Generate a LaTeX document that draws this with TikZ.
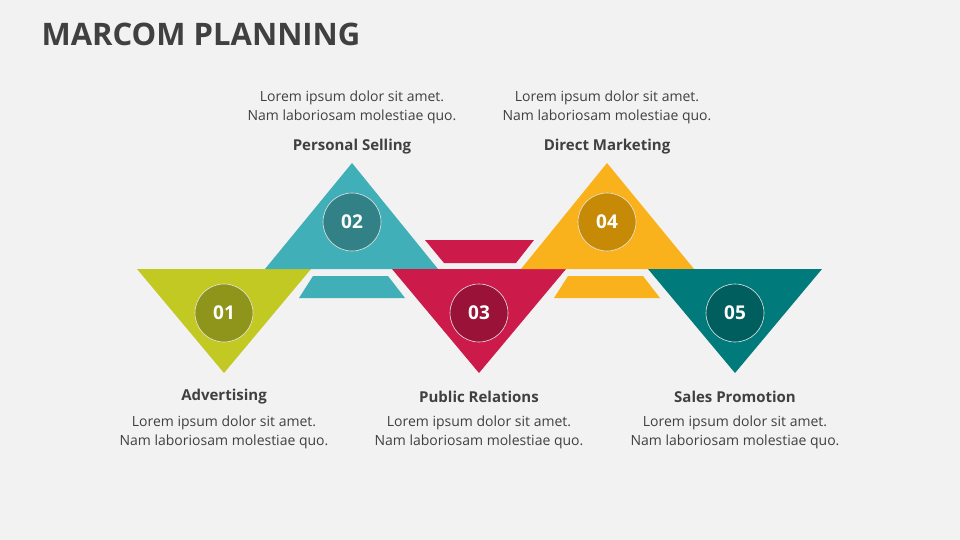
\documentclass[tikz,border=0pt]{standalone}
\usepackage{fontspec}
\setmainfont{Open Sans}
\definecolor{bg}{HTML}{F2F2F2}
\definecolor{cA}{HTML}{C3C923}\definecolor{dA}{HTML}{8F951A}
\definecolor{cB}{HTML}{41AFB8}\definecolor{dB}{HTML}{318187}
\definecolor{cC}{HTML}{CC1A4A}\definecolor{dC}{HTML}{9A1238}
\definecolor{cD}{HTML}{F9B21B}\definecolor{dD}{HTML}{C78A06}
\definecolor{cE}{HTML}{007A7A}\definecolor{dE}{HTML}{005E5E}
\definecolor{txt}{HTML}{404040}
\begin{document}
\begin{tikzpicture}[x=1pt,y=-1pt,
  num/.style={circle,minimum size=58pt,draw=white!80!gray,line width=0.6pt,text=white,font=\bfseries\fontsize{19}{19}\selectfont},
  head/.style={text=txt,font=\bfseries\fontsize{15}{18}\selectfont},
  body/.style={text=txt,align=center,font=\fontsize{14}{19}\selectfont}]
\fill[bg] (0,0) rectangle (960,540);
\useasboundingbox (0,0) rectangle (960,540);
\node[anchor=west,text=txt,font=\bfseries\fontsize{31}{31}\selectfont] (title) at (38,34) {MARCOM PLANNING};
% triangles
\fill[cA] (137,269) -- (311,269) -- (224,373) -- cycle;
\fill[cB] (265,269) -- (438,269) -- (352,163) -- cycle;
\fill[cC] (392,269) -- (566,269) -- (479,373) -- cycle;
\fill[cD] (521,269) -- (694,269) -- (607,163) -- cycle;
\fill[cE] (648,269) -- (822,269) -- (735,373) -- cycle;
% trapezoids
\fill[cB] (313,276) -- (388,276) -- (405,298) -- (299,298) -- cycle;
\fill[cC] (425,240) -- (534,240) -- (516,263) -- (444,263) -- cycle;
\fill[cD] (568,276) -- (643,276) -- (660,298) -- (554,298) -- cycle;
% circles
\node[num,fill=dA] (n1) at (224,313) {01};
\node[num,fill=dB] (n2) at (352,222) {02};
\node[num,fill=dC] (n3) at (479,313) {03};
\node[num,fill=dD] (n4) at (607,222) {04};
\node[num,fill=dE] (n5) at (735,313) {05};
% labels
\node[head] (h2) at (352,147) {Personal Selling};
\node[body] (b2) at (352,107) {Lorem ipsum dolor sit amet.\\Nam laboriosam molestiae quo.};
\node[head] (h4) at (607,147) {Direct Marketing};
\node[body] (b4) at (607,107) {Lorem ipsum dolor sit amet.\\Nam laboriosam molestiae quo.};
\node[head] (h1) at (224,397) {Advertising};
\node[body] (b1) at (224,432) {Lorem ipsum dolor sit amet.\\Nam laboriosam molestiae quo.};
\node[head] (h3) at (479,397) {Public Relations};
\node[body] (b3) at (479,432) {Lorem ipsum dolor sit amet.\\Nam laboriosam molestiae quo.};
\node[head] (h5) at (735,397) {Sales Promotion};
\node[body] (b5) at (735,432) {Lorem ipsum dolor sit amet.\\Nam laboriosam molestiae quo.};
\end{tikzpicture}
\end{document}
